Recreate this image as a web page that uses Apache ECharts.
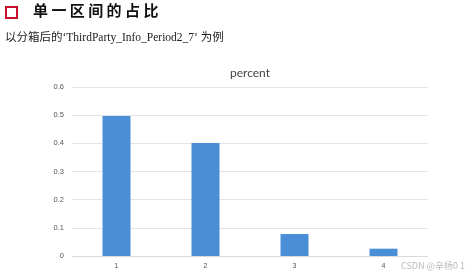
<!DOCTYPE html>
<html><head><meta charset="utf-8">
<script src="https://cdn.jsdelivr.net/npm/echarts@6/dist/echarts.min.js"></script>
<style>html,body{margin:0;padding:0;background:#fff;}#c{width:474px;height:276px;}</style>
</head><body><div id="c"></div>
<script>
const categories = ['1', '2', '3', '4'];
const percentValues = [0.497, 0.401, 0.078, 0.026];
const yTicks = [0, 0.1, 0.2, 0.3, 0.4, 0.5, 0.6];

const chart = echarts.init(document.getElementById('c'), null, {renderer: 'canvas'});
chart.setOption({
  backgroundColor: '#fff',
  animation: false,
  title: {
    text: 'percent', left: 245, top: 62, textAlign: 'center',
    textStyle: {fontFamily: 'Lato', fontSize: 12, fontWeight: 'normal', color: '#444'}
  },
  graphic: [
    {type: 'rect', shape: {x: 6, y: 7, width: 11, height: 11}, style: {fill: 'none', stroke: '#c8102e', lineWidth: 2}},
    {type: 'text', left: 33, top: 3, style: {text: '单 一 区 间 的 占 比', font: 'bold 15px "Noto Sans CJK SC"', fill: '#111'}},
    {type: 'text', left: 5, top: 32, style: {text: '以分箱后的‘ThirdParty_Info_Period2_7’ 为例', font: '11.5px "Liberation Serif", "Noto Sans CJK SC"', fill: '#222'}},
    {type: 'text', right: 9, top: 261, style: {text: 'CSDN @辛杨0 1', font: '9px "Noto Sans CJK SC"', fill: '#bbb'}}
  ],
  grid: {left: 72, right: 46, top: 87, bottom: 20, containLabel: false},
  xAxis: {
    type: 'category', data: categories,
    axisLine: {lineStyle: {color: '#d9d9d9'}},
    axisTick: {show: false},
    axisLabel: {fontSize: 7, color: '#555', margin: 7}
  },
  yAxis: {
    type: 'value', min: yTicks[0], max: yTicks[yTicks.length - 1], interval: 0.1,
    axisLine: {show: false}, axisTick: {show: false},
    axisLabel: {fontSize: 7.5, color: '#555', margin: 8, formatter: v => String(+v.toFixed(1))},
    splitLine: {lineStyle: {color: '#e4e4e4'}}
  },
  series: [{
    type: 'bar', data: percentValues, barWidth: 28,
    itemStyle: {color: '#4a8fd6'}
  }]
});
</script></body></html>
